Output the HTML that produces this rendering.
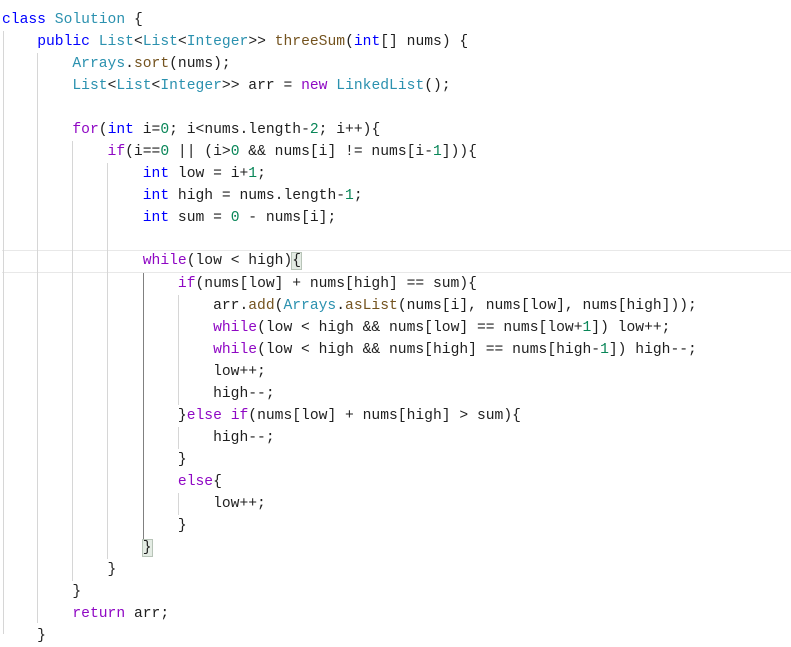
<!DOCTYPE html>
<html><head><meta charset="utf-8"><style>
body{margin:0;background:#fff;width:791px;height:633px;overflow:hidden;position:relative;}
.l{position:absolute;left:2px;height:22px;line-height:22px;white-space:pre;font-family:"Liberation Mono",monospace;font-size:14.67px;color:#1f1f1f;}
.k{color:#0000ff}.t{color:#2b91af}.m{color:#74531f}.c{color:#8f08c4}.n{color:#098658}
.g{position:absolute;width:1px;background:#d6d6d6}
.hl{position:absolute;left:2px;width:789px;top:250px;height:21px;border-top:1px solid #e8e8e8;border-bottom:1px solid #e8e8e8;}
.bm{background:#e4ece4;outline:1px solid #b8c4b8}
</style></head><body>
<div class="hl"></div>
<div class="g" style="left:3px;top:31px;height:603px"></div>
<div class="g" style="left:37px;top:53px;height:570px"></div>
<div class="g" style="left:72px;top:141px;height:440px"></div>
<div class="g" style="left:107px;top:163px;height:396px"></div>
<div class="g" style="left:143px;top:273px;height:272px;background:#808080"></div>
<div class="g" style="left:178px;top:295px;height:110px"></div>
<div class="g" style="left:178px;top:427px;height:22px"></div>
<div class="g" style="left:178px;top:493px;height:22px"></div>
<div class="l" style="top:9px"><span class="k">class</span> <span class="t">Solution</span> {</div>
<div class="l" style="top:31px">    <span class="k">public</span> <span class="t">List</span>&lt;<span class="t">List</span>&lt;<span class="t">Integer</span>&gt;&gt; <span class="m">threeSum</span>(<span class="k">int</span>[] nums) {</div>
<div class="l" style="top:53px">        <span class="t">Arrays</span>.<span class="m">sort</span>(nums);</div>
<div class="l" style="top:75px">        <span class="t">List</span>&lt;<span class="t">List</span>&lt;<span class="t">Integer</span>&gt;&gt; arr = <span class="c">new</span> <span class="t">LinkedList</span>();</div>
<div class="l" style="top:119px">        <span class="c">for</span>(<span class="k">int</span> i=<span class="n">0</span>; i&lt;nums.length-<span class="n">2</span>; i++){</div>
<div class="l" style="top:141px">            <span class="c">if</span>(i==<span class="n">0</span> || (i&gt;<span class="n">0</span> &amp;&amp; nums[i] != nums[i-<span class="n">1</span>])){</div>
<div class="l" style="top:163px">                <span class="k">int</span> low = i+<span class="n">1</span>;</div>
<div class="l" style="top:185px">                <span class="k">int</span> high = nums.length-<span class="n">1</span>;</div>
<div class="l" style="top:207px">                <span class="k">int</span> sum = <span class="n">0</span> - nums[i];</div>
<div class="l" style="top:250px">                <span class="c">while</span>(low &lt; high)<span class="bm">{</span></div>
<div class="l" style="top:273px">                    <span class="c">if</span>(nums[low] + nums[high] == sum){</div>
<div class="l" style="top:295px">                        arr.<span class="m">add</span>(<span class="t">Arrays</span>.<span class="m">asList</span>(nums[i], nums[low], nums[high]));</div>
<div class="l" style="top:317px">                        <span class="c">while</span>(low &lt; high &amp;&amp; nums[low] == nums[low+<span class="n">1</span>]) low++;</div>
<div class="l" style="top:339px">                        <span class="c">while</span>(low &lt; high &amp;&amp; nums[high] == nums[high-<span class="n">1</span>]) high--;</div>
<div class="l" style="top:361px">                        low++;</div>
<div class="l" style="top:383px">                        high--;</div>
<div class="l" style="top:405px">                    }<span class="c">else</span> <span class="c">if</span>(nums[low] + nums[high] &gt; sum){</div>
<div class="l" style="top:427px">                        high--;</div>
<div class="l" style="top:449px">                    }</div>
<div class="l" style="top:471px">                    <span class="c">else</span>{</div>
<div class="l" style="top:493px">                        low++;</div>
<div class="l" style="top:515px">                    }</div>
<div class="l" style="top:537px">                <span class="bm">}</span></div>
<div class="l" style="top:559px">            }</div>
<div class="l" style="top:581px">        }</div>
<div class="l" style="top:603px">        <span class="c">return</span> arr;</div>
<div class="l" style="top:625px">    }</div>
</body></html>
